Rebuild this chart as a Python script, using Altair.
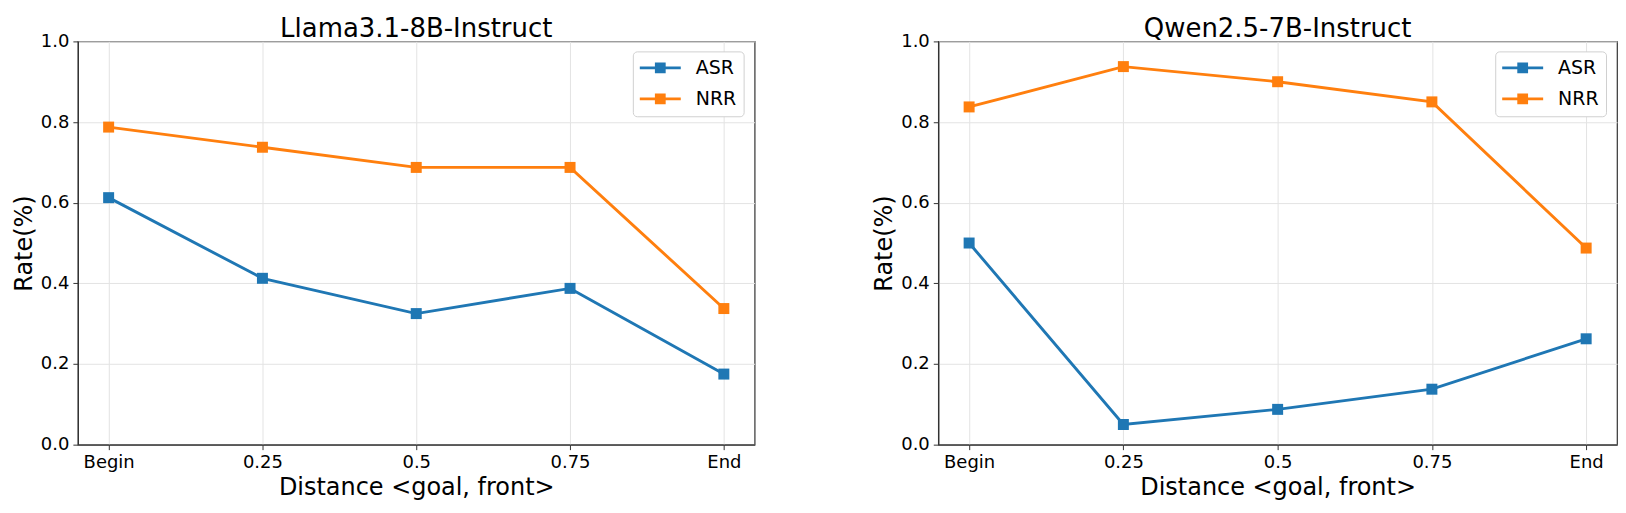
import altair as alt
import pandas as pd

positions = ["Begin", "0.25", "0.5", "0.75", "End"]
series_names = ["ASR", "NRR"]
llama_asr = [0.6125, 0.4125, 0.325, 0.3875, 0.175]
llama_nrr = [0.7875, 0.7375, 0.6875, 0.6875, 0.3375]
qwen_asr = [0.5, 0.05, 0.0875, 0.1375, 0.2625]
qwen_nrr = [0.8375, 0.9375, 0.9, 0.85, 0.4875]
y_ticks = [0.0, 0.2, 0.4, 0.6, 0.8, 1.0]
colors = ["#1f77b4", "#ff7f0e"]
titles = ["Llama3.1-8B-Instruct", "Qwen2.5-7B-Instruct"]

FONT = "DejaVu Sans"
# legend glyph: a short line with a square marker in its middle
SYM = "M-1.19,0L3.94,0M0.875,-0.5L1.875,-0.5L1.875,0.5L0.875,0.5Z"
LEGEND_W = 112


def make_df(asr, nrr):
    rows = []
    for name, vals in zip(series_names, [asr, nrr]):
        for p, v in zip(positions, vals):
            rows.append({"pos": p, "rate": v, "series": name})
    return pd.DataFrame(rows)


def panel(title, asr, nrr, w):
    df = make_df(asr, nrr)
    x = alt.X(
        "pos:N",
        sort=positions,
        scale=alt.Scale(type="point", padding=0.2),
        axis=alt.Axis(title="Distance <goal, front>", labelAngle=0, grid=True),
    )
    y = alt.Y(
        "rate:Q",
        scale=alt.Scale(domain=[0, 1], nice=False, zero=True),
        axis=alt.Axis(title="Rate(%)", values=y_ticks, format=".1f", grid=True),
    )
    legend = alt.Legend(
        title=None,
        orient="none",
        legendX=w - 10 - LEGEND_W,
        legendY=10,
        symbolType=SYM,
        symbolSize=256,
        symbolStrokeWidth=2.8,
    )
    sc = alt.Scale(domain=series_names, range=colors)
    line = alt.Chart(df).mark_line(strokeWidth=2.9).encode(
        x=x, y=y, stroke=alt.Stroke("series:N", scale=sc, legend=legend)
    )
    pts = alt.Chart(df).mark_point(shape="square", filled=True, size=121, opacity=1).encode(
        x=x, y=y, fill=alt.Fill("series:N", scale=sc, legend=legend)
    )
    return alt.layer(line, pts).properties(
        width=w,
        height=404,
        title=alt.Title(title, fontSize=26, font=FONT, fontWeight="normal", color="black",
                        baseline="bottom", offset=-36),
    )


left = panel(titles[0], llama_asr, llama_nrr, 678)
right = panel(titles[1], qwen_asr, qwen_nrr, 680)

chart = (
    alt.hconcat(left, right, spacing=116)
    .resolve_scale(stroke="independent", fill="independent")
    .resolve_legend(stroke="independent", fill="independent")
    .properties(padding={"left": 3, "top": 7, "right": 0, "bottom": 0})
    .configure_view(stroke="#333333", strokeWidth=1.2)
    .configure_axis(
        labelFont=FONT,
        labelFontSize=18,
        labelColor="black",
        titleFont=FONT,
        titleFontSize=24,
        titleFontWeight="normal",
        titleColor="black",
        tickColor="#333333",
        tickSize=5,
        labelPadding=4,
        domainColor="#333333",
        domainWidth=1.2,
        gridColor="#e3e3e3",
        gridWidth=1,
        titlePadding=4,
    )
    .configure_legend(
        labelFont=FONT,
        labelFontSize=19,
        labelColor="black",
        labelOffset=37,
        strokeColor="#d0d0d0",
        fillColor="white",
        cornerRadius=4,
        padding=7,
        rowPadding=10,
    )
)

chart.save("out.html", embed_options={"renderer": "svg", "actions": False})
